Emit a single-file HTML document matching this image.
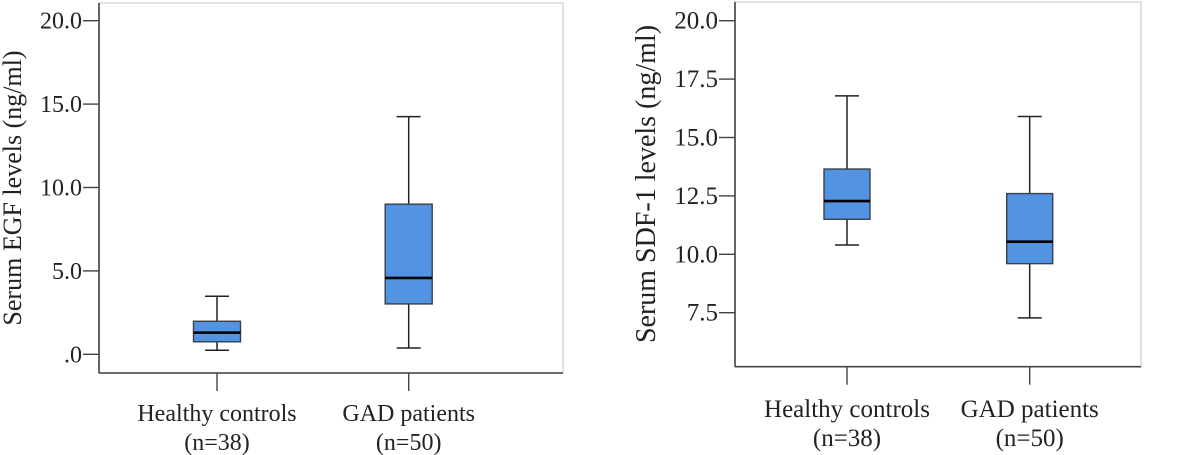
<!DOCTYPE html>
<html><head><meta charset="utf-8">
<style>
html,body{margin:0;padding:0;background:#fff;}
svg{display:block;}
text{font-family:"Liberation Serif","DejaVu Serif",serif;fill:#222;}
</style></head>
<body>
<svg id="chart" width="1200" height="455" viewBox="0 0 1200 455" xmlns="http://www.w3.org/2000/svg"></svg>
<script>
// Left panel: Serum EGF
const egfCategories = ["Healthy controls", "GAD patients"];
const egfCounts = ["(n=38)", "(n=50)"];
const egfWhiskerLow = [0.24, 0.38];
const egfQ1 = [0.75, 3.02];
const egfMedian = [1.3, 4.58];
const egfQ3 = [1.98, 9.0];
const egfWhiskerHigh = [3.48, 14.25];
const egfTicks = [0, 5, 10, 15, 20];
const egfTickLabels = [".0", "5.0", "10.0", "15.0", "20.0"];

// Right panel: Serum SDF-1
const sdfCategories = ["Healthy controls", "GAD patients"];
const sdfCounts = ["(n=38)", "(n=50)"];
const sdfWhiskerLow = [10.4, 7.28];
const sdfQ1 = [11.5, 9.6];
const sdfMedian = [12.28, 10.54];
const sdfQ3 = [13.65, 12.6];
const sdfWhiskerHigh = [16.78, 15.9];
const sdfTicks = [7.5, 10, 12.5, 15, 17.5, 20];
const sdfTickLabels = ["7.5", "10.0", "12.5", "15.0", "17.5", "20.0"];

const svg = document.getElementById('chart');
const NS = "http://www.w3.org/2000/svg";
function mk(tag, attrs, parent){
  const e = document.createElementNS(NS, tag);
  for (const k in attrs) e.setAttribute(k, attrs[k]);
  (parent||svg).appendChild(e);
  return e;
}

function drawPanel(cfg){
  const g = mk('g', {});
  
  
  const y = v => cfg.y0 - (v - cfg.v0) * cfg.ppu;
  const fr = mk('rect', {x:cfg.left, y:cfg.top, width:cfg.right-cfg.left, height:cfg.bottom-cfg.top, fill:'#fff', stroke:'#d8d8d8', 'stroke-width':1.5}, g);
  
  
  const ya = mk('line', {x1:cfg.left, y1:cfg.top, x2:cfg.left, y2:cfg.bottom, stroke:'#444', 'stroke-width':1.6}, g);
  
  
  const xa = mk('line', {x1:cfg.left, y1:cfg.bottom, x2:cfg.right, y2:cfg.bottom, stroke:'#444', 'stroke-width':1.6}, g);
  
  
  cfg.ticks.forEach((t,i)=>{
    const ty = y(t);
    const tl = mk('line', {x1:cfg.left-16, y1:ty, x2:cfg.left, y2:ty, stroke:'#444', 'stroke-width':1.4}, g);
    
    
    const tx = mk('text', {x:cfg.left-17, y:ty+8, 'text-anchor':'end', 'font-size':cfg.tfs}, g);
    
    
    tx.textContent = cfg.tickLabels[i];
  });
  const yt = mk('text', {x:0, y:0, 'text-anchor':'middle', 'font-size':cfg.yfs, transform:`translate(${cfg.ytX},${cfg.ytY}) rotate(-90)`}, g);
  
  
  yt.textContent = cfg.ytitle;
  cfg.cats.forEach((c,i)=>{
    const cx = cfg.cx[i];
    const xt = mk('line', {x1:cx, y1:cfg.bottom, x2:cx, y2:cfg.bottom+18, stroke:'#444', 'stroke-width':1.4}, g);
    
    
    const l1 = mk('text', {x:cx, y:cfg.lab1, 'text-anchor':'middle', 'font-size':cfg.fs}, g);
    
    
    l1.textContent = c;
    const l2 = mk('text', {x:cx, y:cfg.lab2, 'text-anchor':'middle', 'font-size':cfg.fs}, g);
    
    
    l2.textContent = cfg.counts[i];
    const bg = mk('g', {}, g);
    
    
    const hw = cfg.boxW/2, cw = 12;
    const wl = mk('line', {x1:cx, y1:y(cfg.q3[i]), x2:cx, y2:y(cfg.wh[i]), stroke:'#222', 'stroke-width':1.5}, bg);
    
    
    const wl2 = mk('line', {x1:cx, y1:y(cfg.q1[i]), x2:cx, y2:y(cfg.wl[i]), stroke:'#222', 'stroke-width':1.5}, bg);
    
    
    const c1 = mk('line', {x1:cx-cw, y1:y(cfg.wh[i]), x2:cx+cw, y2:y(cfg.wh[i]), stroke:'#222', 'stroke-width':1.5}, bg);
    
    
    const c2 = mk('line', {x1:cx-cw, y1:y(cfg.wl[i]), x2:cx+cw, y2:y(cfg.wl[i]), stroke:'#222', 'stroke-width':1.5}, bg);
    
    
    const r = mk('rect', {x:cx-hw, y:y(cfg.q3[i]), width:cfg.boxW, height:y(cfg.q1[i])-y(cfg.q3[i]), fill:'#5294e2', stroke:'#3a3f4a', 'stroke-width':1.4}, bg);
    
    
    const m = mk('line', {x1:cx-hw, y1:y(cfg.med[i]), x2:cx+hw, y2:y(cfg.med[i]), stroke:'#000', 'stroke-width':2.6}, bg);
    
    
  });
}

drawPanel({name:'egf-panel', left:99, right:563, top:3, bottom:373, y0:354.3, v0:0, ppu:16.68,
  ticks:egfTicks, tickLabels:egfTickLabels, tfs:24, fs:24, yfs:26, ytX:21, ytY:188, ytitle:'Serum EGF levels (ng/ml)',
  cats:egfCategories, counts:egfCounts, cx:[217,408.7], boxW:47, lab1:421, lab2:450,
  wl:egfWhiskerLow, q1:egfQ1, med:egfMedian, q3:egfQ3, wh:egfWhiskerHigh});

drawPanel({name:'sdf1-panel', left:735, right:1141, top:2, bottom:366.7, y0:20.7, v0:20, ppu:23.36,
  ticks:sdfTicks, tickLabels:sdfTickLabels, tfs:25, fs:25, yfs:28, ytX:655, ytY:184, ytitle:'Serum SDF-1 levels (ng/ml)',
  cats:sdfCategories, counts:sdfCounts, cx:[847,1029.7], boxW:46, lab1:417, lab2:446,
  wl:sdfWhiskerLow, q1:sdfQ1, med:sdfMedian, q3:sdfQ3, wh:sdfWhiskerHigh});
</script>
</body></html>
